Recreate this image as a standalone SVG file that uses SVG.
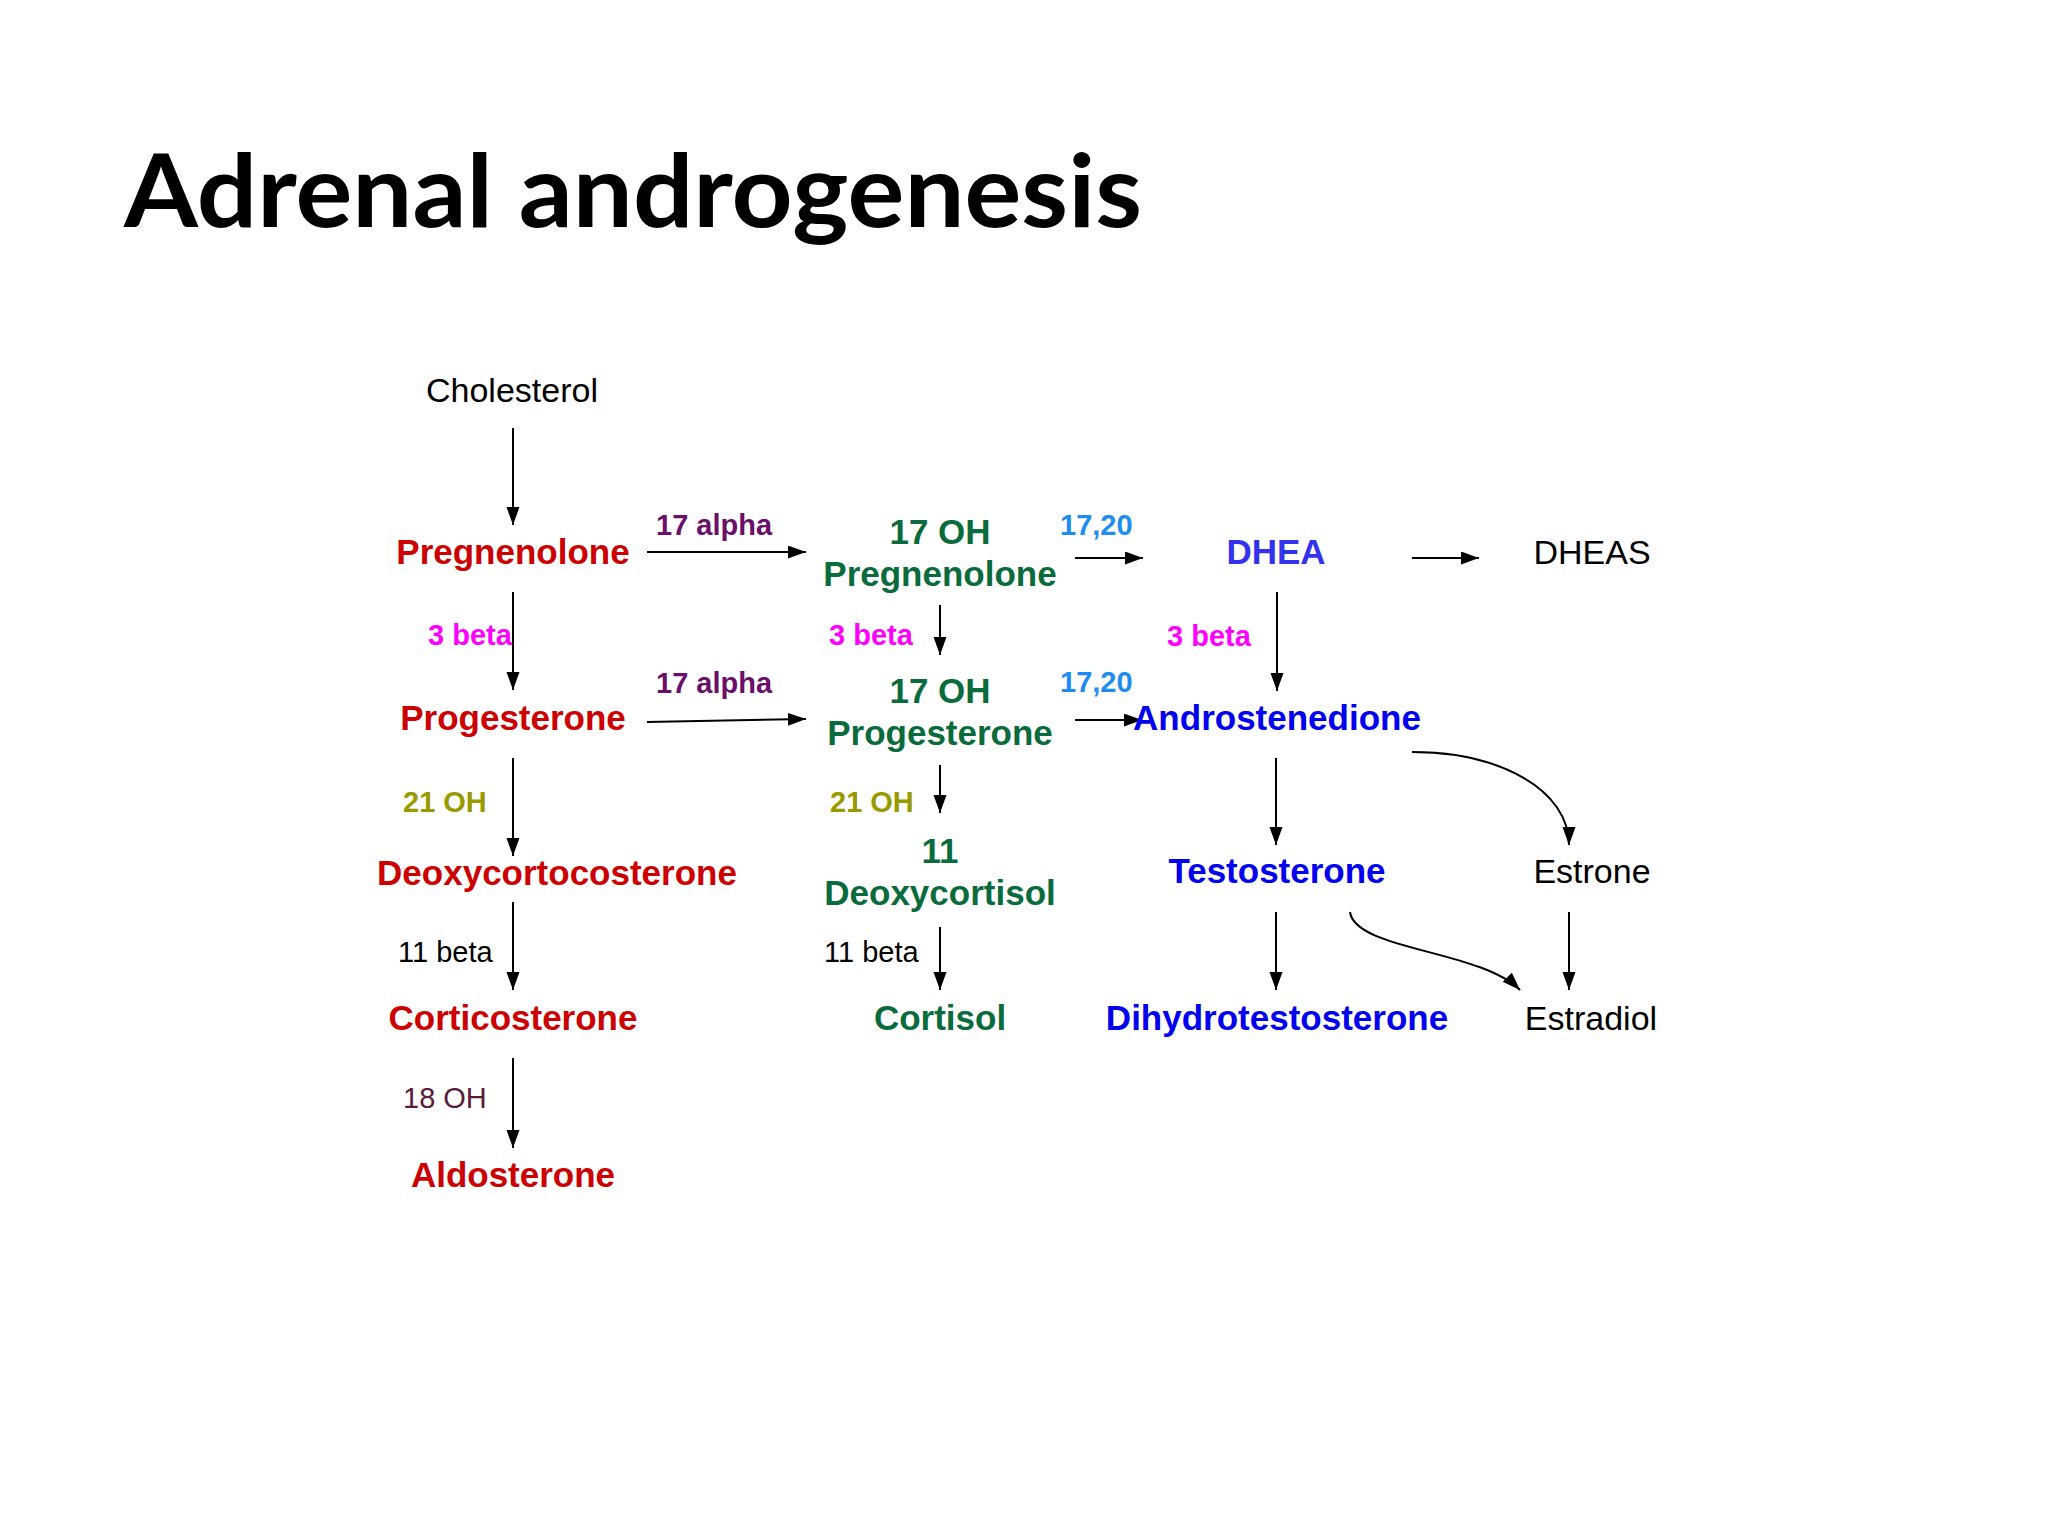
<svg xmlns="http://www.w3.org/2000/svg" width="2048" height="1536" viewBox="0 0 2048 1536">
<defs>
<marker id="ah" markerUnits="userSpaceOnUse" markerWidth="20" markerHeight="14" refX="18" refY="6.5" orient="auto">
<path d="M0,0 L18,6.5 L0,13 z" fill="#000"/>
</marker>
<style>
.t{font-family:"Liberation Sans",Arial,sans-serif;font-size:34px;text-anchor:middle}
.b{font-weight:700;font-size:35px}
.red{fill:#cc0000}
.grn{fill:#0a6b3c}
.blu{fill:#0000ee}
.blk{fill:#000}
.lab{font-family:"Liberation Sans",Arial,sans-serif;font-size:29px}
.lb{font-weight:700}
.conn path{fill:none;stroke:#000;stroke-width:2;marker-end:url(#ah)}
</style>
</defs>
<rect width="2048" height="1536" fill="#fff"/>
<text x="124" y="227" font-family="Lato,'Open Sans',sans-serif" font-weight="700" font-size="101" textLength="1018" lengthAdjust="spacingAndGlyphs" fill="#000">Adrenal androgenesis</text>

<g id="connectors" class="conn">
<path d="M513,428 V525"/>
<path d="M513,592 V690"/>
<path d="M513,758 V856"/>
<path d="M513,902 V990"/>
<path d="M513,1058 V1148"/>
<path d="M647,552 H806"/>
<path d="M647,722 L806,719"/>
<path d="M940,605 V655"/>
<path d="M940,765 V813"/>
<path d="M940,927 V990"/>
<path d="M1075,558 H1143"/>
<path d="M1075,720 H1142"/>
<path d="M1412,558 H1479"/>
<path d="M1277,592 V691"/>
<path d="M1276,758 V845"/>
<path d="M1412,752 C1500,752 1569,790 1569,845"/>
<path d="M1276,912 V990"/>
<path d="M1350,912 C1355,950 1480,950 1520,990"/>
<path d="M1569,912 V990"/>
</g>

<g id="enzyme-labels" class="lab lb">
<text x="656" y="535" fill="#6a0f6a">17 alpha</text>
<text x="656" y="693" fill="#6a0f6a">17 alpha</text>
<text x="428" y="645" fill="#ff00ff">3 beta</text>
<text x="829" y="645" fill="#ff00ff">3 beta</text>
<text x="1167" y="646" fill="#ff00ff">3 beta</text>
<text x="403" y="812" fill="#999900">21 OH</text>
<text x="830" y="812" fill="#999900">21 OH</text>
<text x="1060" y="535" fill="#1e8cf0">17,20</text>
<text x="1060" y="692" fill="#1e8cf0">17,20</text>
</g>
<g id="enzyme-labels-regular" class="lab">
<text x="398" y="962" fill="#000">11 beta</text>
<text x="824" y="962" fill="#000">11 beta</text>
<text x="403" y="1108" fill="#5c1a3c">18 OH</text>
</g>

<g id="cholesterol"><text class="t blk" x="512" y="402">Cholesterol</text></g>
<g id="pregnenolone"><text class="t b red" x="513" y="564">Pregnenolone</text></g>
<g id="progesterone"><text class="t b red" x="513" y="730">Progesterone</text></g>
<g id="deoxycortocosterone"><text class="t b red" x="557" y="885">Deoxycortocosterone</text></g>
<g id="corticosterone"><text class="t b red" x="513" y="1030">Corticosterone</text></g>
<g id="aldosterone"><text class="t b red" x="513" y="1187">Aldosterone</text></g>
<g id="oh17-pregnenolone"><text class="t b grn" x="940" y="544">17 OH</text><text class="t b grn" x="940" y="586">Pregnenolone</text></g>
<g id="oh17-progesterone"><text class="t b grn" x="940" y="703">17 OH</text><text class="t b grn" x="940" y="745">Progesterone</text></g>
<g id="deoxycortisol11"><text class="t b grn" x="940" y="863">11</text><text class="t b grn" x="940" y="905">Deoxycortisol</text></g>
<g id="cortisol"><text class="t b grn" x="940" y="1030">Cortisol</text></g>
<g id="dhea"><text class="t b" fill="#3333ee" x="1276" y="564">DHEA</text></g>
<g id="dheas"><text class="t blk" x="1592" y="564">DHEAS</text></g>
<g id="androstenedione"><text class="t b blu" x="1277" y="730">Androstenedione</text></g>
<g id="testosterone"><text class="t b blu" x="1277" y="883">Testosterone</text></g>
<g id="estrone"><text class="t blk" x="1592" y="883">Estrone</text></g>
<g id="dihydrotestosterone"><text class="t b blu" x="1277" y="1030">Dihydrotestosterone</text></g>
<g id="estradiol"><text class="t blk" x="1591" y="1030">Estradiol</text></g>
</svg>
